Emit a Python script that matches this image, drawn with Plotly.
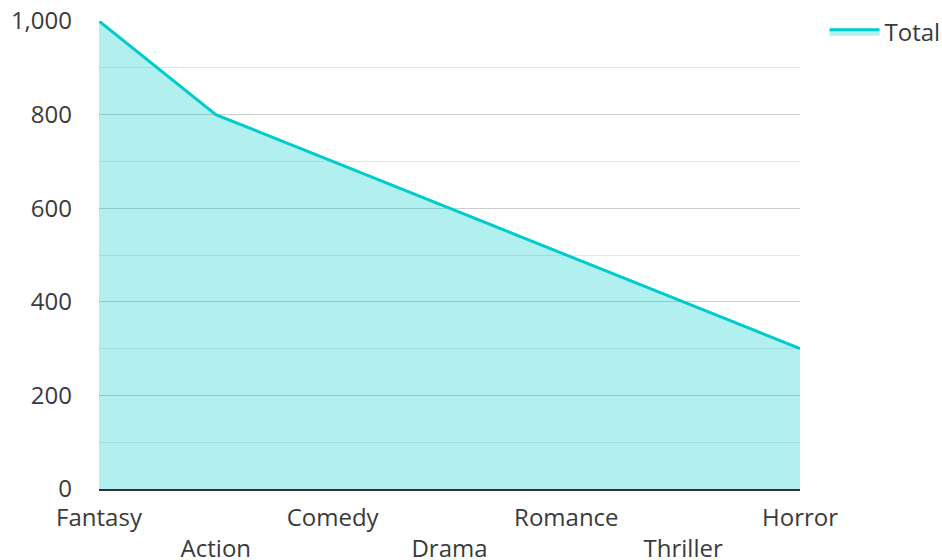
import plotly.graph_objects as go

categories = ["Fantasy", "Action", "Comedy", "Drama", "Romance", "Thriller", "Horror"]
totals = [1000, 800, 700, 600, 500, 400, 300]
tick_labels = [c if i % 2 == 0 else "<br>" + c for i, c in enumerate(categories)]

fig = go.Figure()
fig.add_trace(go.Scatter(
    x=categories, y=totals, name="Total", mode="lines",
    line=dict(color="#00CCCC", width=3),
    fill="tozeroy", fillcolor="rgba(0,204,204,0.3)",
    showlegend=True,
))

fig.update_layout(
    width=942, height=560,
    margin=dict(l=99, r=142, t=21, b=71, autoexpand=False),
    paper_bgcolor="white", plot_bgcolor="white",
    font=dict(family="Open Sans", size=24, color="#3a3a3a"),
    legend=dict(x=1.035, xanchor="left", y=0.976, yanchor="middle",
                itemwidth=50, font=dict(size=24, color="#3a3a3a")),
    xaxis=dict(type="category", range=[0, 6], tickmode="array",
               tickvals=categories, ticktext=tick_labels, automargin=False,
               showgrid=False, showline=True, linecolor="#333333", linewidth=2,
               ticks="", zeroline=False, ticklabelstandoff=6,
               ticklabeloverflow="allow"),
    yaxis=dict(range=[0, 1000], dtick=200, tickformat=",", automargin=False,
               showgrid=True, gridcolor="#cccccc", gridwidth=1,
               minor=dict(dtick=100, showgrid=True, gridcolor="#e6e6e6"),
               zeroline=False, ticks="", ticklabelstandoff=26,
               ticklabeloverflow="allow"),
)

fig.write_html("out.html", config={"displayModeBar": False},
               post_script="document.body.style.margin='0';document.body.style.overflow='hidden';")
